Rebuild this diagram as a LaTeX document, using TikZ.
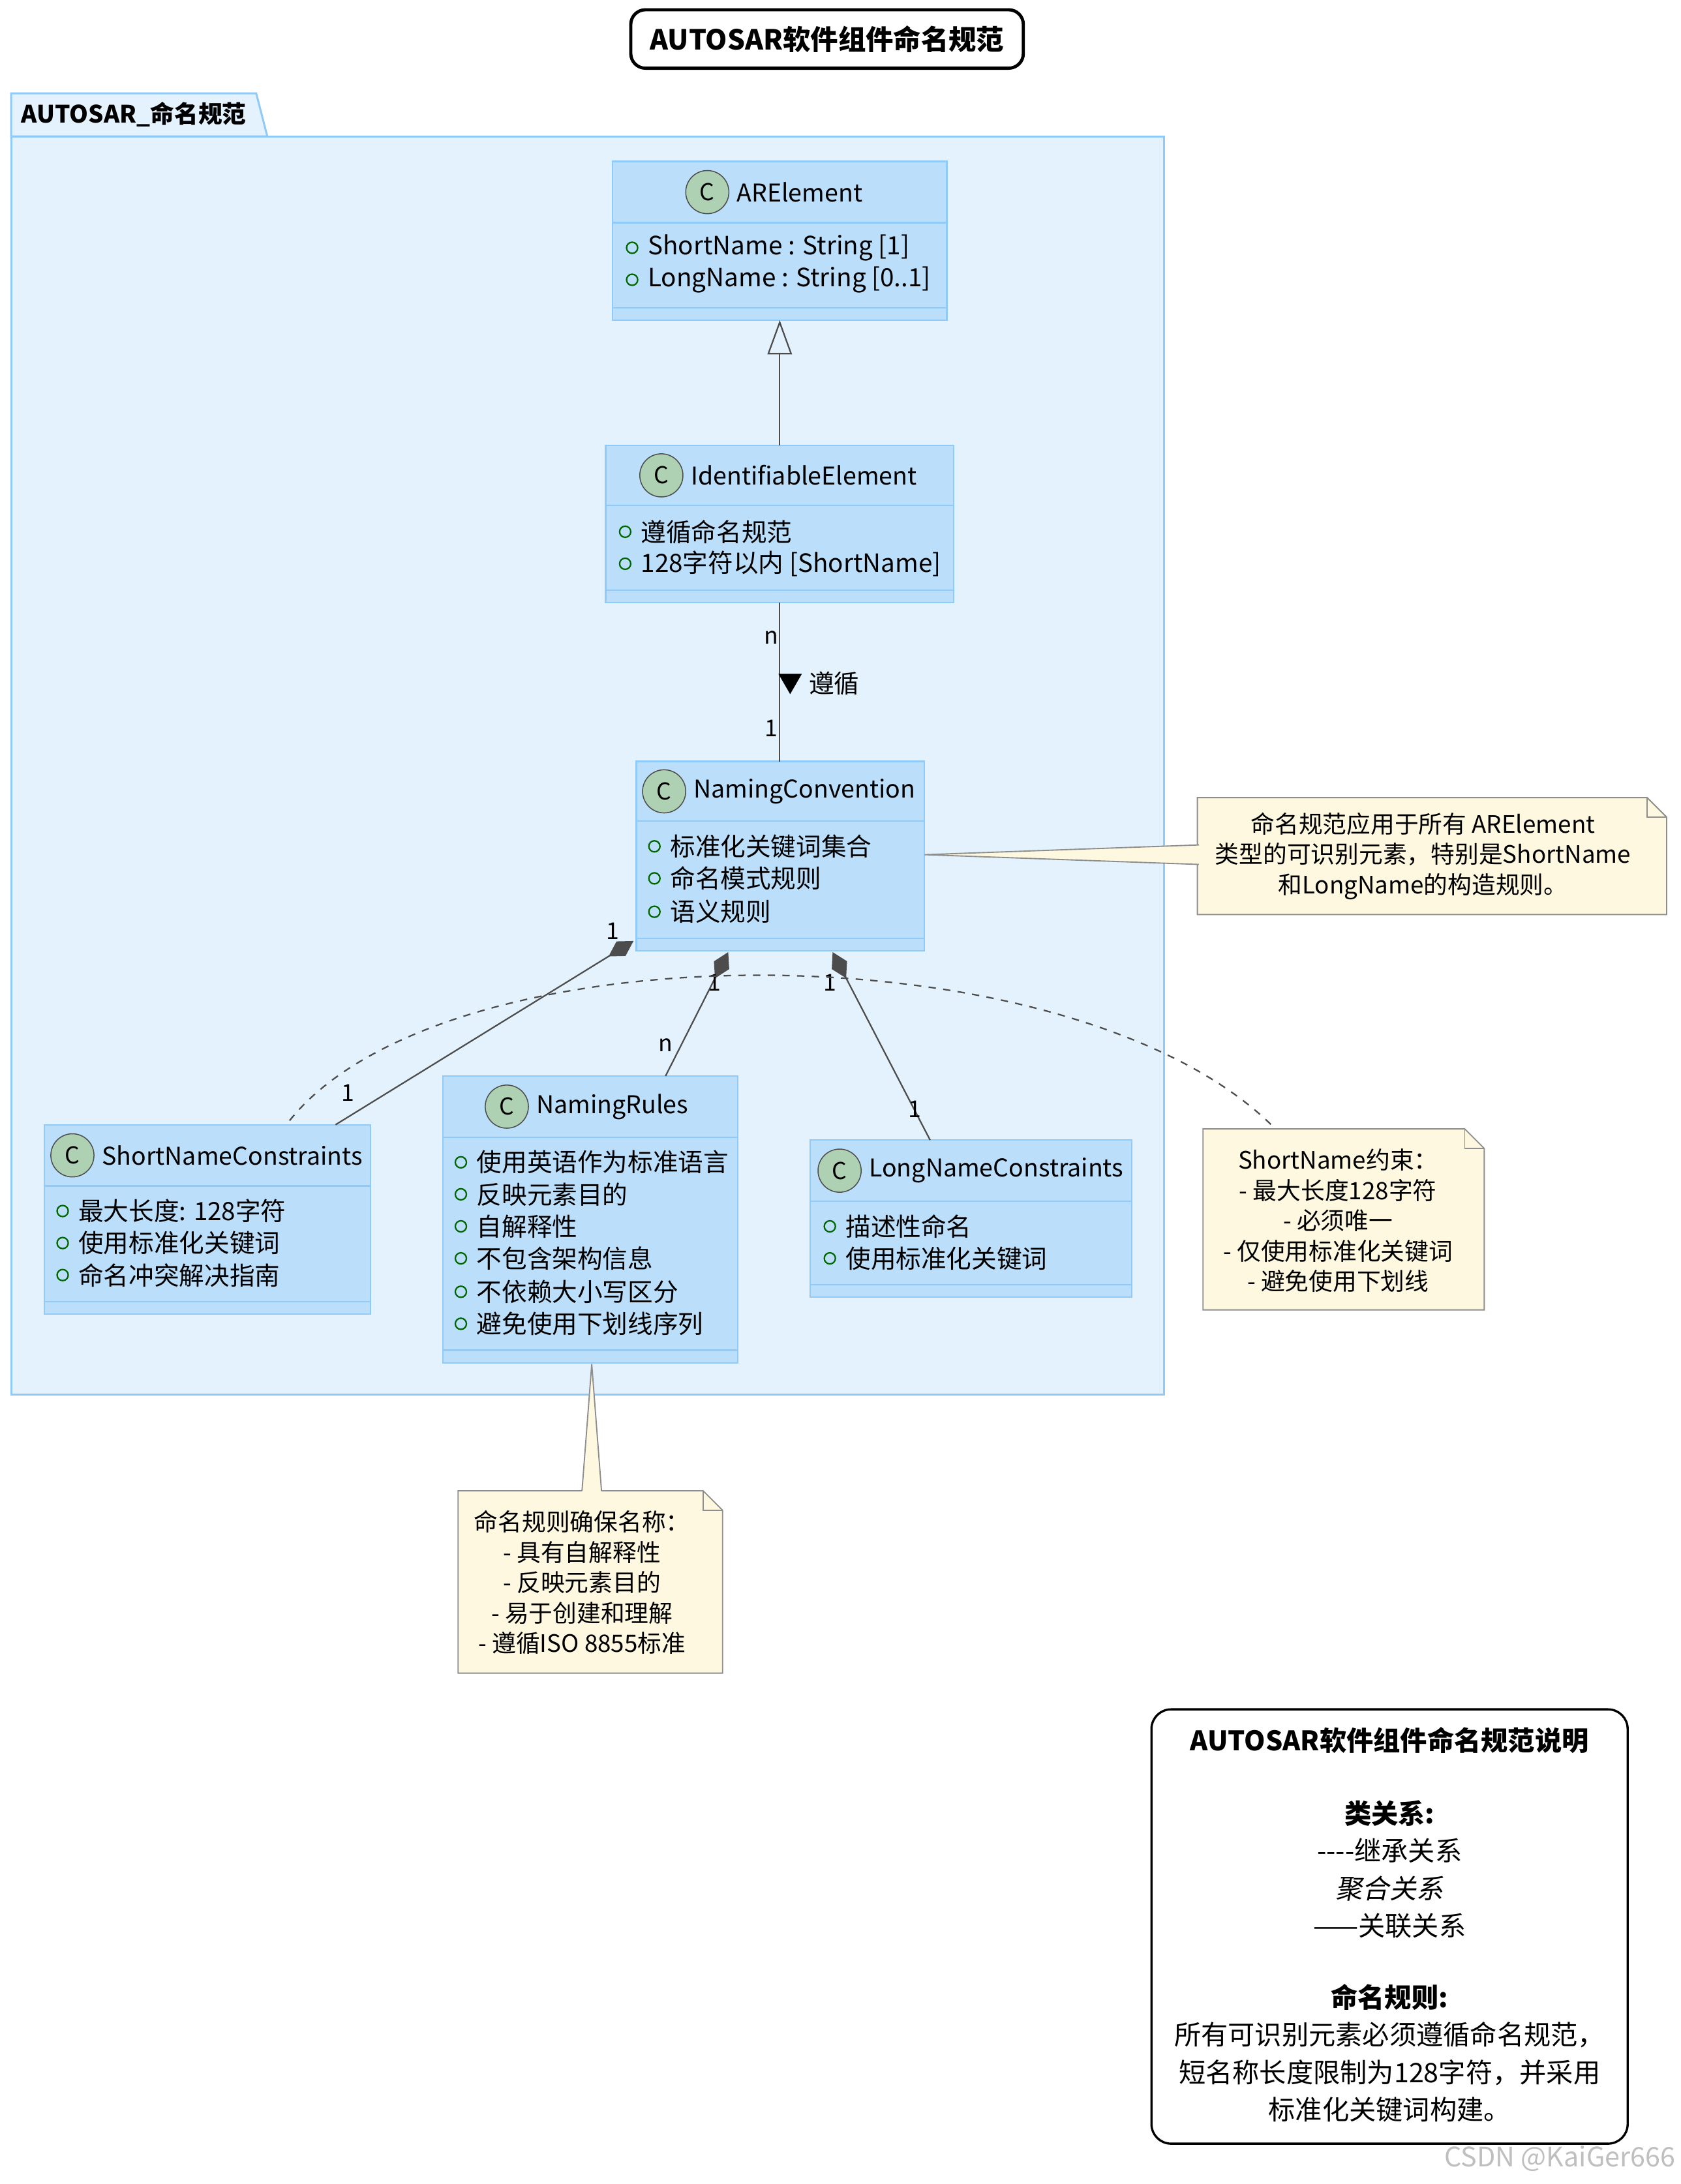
\documentclass[tikz,border=0pt]{standalone}
\usepackage{fontspec}
\setmainfont{Noto Sans CJK SC}
\newfontfamily\slcjk[FakeSlant=0.2]{Noto Sans CJK SC}
\usetikzlibrary{arrows.meta,calc}
\definecolor{pkgfill}{HTML}{E3F2FD}
\definecolor{pkgline}{HTML}{90CAF9}
\definecolor{clsfill}{HTML}{BBDEFB}
\definecolor{cfill}{HTML}{ADD1B2}
\definecolor{notefill}{HTML}{FEF8E0}
\definecolor{noteline}{HTML}{8E8E8E}
\tikzset{
 px/.style={x={(0.02cm,0)},y={(0,-0.02cm)}},
 txt/.style={font=\fontsize{10.3}{11}\selectfont,inner sep=0pt,anchor=west},
 ctitle/.style={font=\fontsize{10}{11}\selectfont,inner sep=0pt},
 lbl/.style={font=\fontsize{9.5}{10}\selectfont,inner sep=0pt},
 notetxt/.style={font=\fontsize{9.8}{12.4}\selectfont,align=center,inner sep=0pt},
 cbox/.style={fill=clsfill,draw=pkgline,line width=0.6pt},
}
\newcommand{\cls}[8]{% name x1 y1 x2 y2 hy title circlex
 \draw[cbox] (#2,#3) rectangle (#4,#5);
 \draw[pkgline,line width=0.6pt] (#2,#6) -- (#4,#6) (#2,#5-9) -- (#4,#5-9);
 \node[circle,draw=black!70,fill=cfill,minimum size=0.62cm,inner sep=0pt,font=\fontsize{9.5}{10}\selectfont] (#1c) at (#8,{(#3+#6)/2}) {C};
 \node[ctitle,anchor=west] (#1) at ($(#1c.east)+(5,0)$) {#7};}
\newcommand{\attr}[4]{% name x y text
 \draw[black!60!green,line width=0.6pt] (#2+8,#3) circle (4);
 \node[txt] (#1) at (#2+19,#3) {#4};}
\begin{document}
\begin{tikzpicture}[px]
\useasboundingbox (0,0) rectangle (1207,1569);
\fill[white] (0,0) rectangle (1207,1569);
% title
\node[draw,line width=1.3pt,rounded corners=6pt,minimum width=5.64cm,minimum height=0.84cm,font=\bfseries\fontsize{11.3}{12}\selectfont] (title) at (594,28) {AUTOSAR软件组件命名规范};
% package
\draw[fill=pkgfill,draw=pkgline,line width=0.8pt] (8,98) -- (8,67) -- (184,67) -- (192,98) -- cycle;
\draw[fill=pkgfill,draw=pkgline,line width=0.8pt] (8,98) rectangle (836,1002);
\node[font=\bfseries\fontsize{9.8}{10}\selectfont,anchor=west,inner sep=0pt] (pkg) at (15,82) {AUTOSAR\_命名规范};
% classes
\cls{are}{440}{116}{680}{230}{160}{ARElement}{508}
\attr{a1}{446}{178}{ShortName : String [1]}
\attr{a2}{446}{201}{LongName : String [0..1]}
\cls{ide}{435}{320}{685}{433}{363}{IdentifiableElement}{475}
\attr{i1}{441}{382}{遵循命名规范}
\attr{i2}{441}{405}{128字符以内 [ShortName]}
\cls{nc}{457}{547}{664}{683}{590}{NamingConvention}{477}
\attr{n1}{462}{608}{标准化关键词集合}
\attr{n2}{462}{631}{命名模式规则}
\attr{n3}{462}{655}{语义规则}
\cls{snc}{32}{808}{266}{944}{852}{ShortNameConstraints}{52}
\attr{s1}{37}{870}{最大长度: 128字符}
\attr{s2}{37}{893}{使用标准化关键词}
\attr{s3}{37}{916}{命名冲突解决指南}
\cls{nr}{318}{773}{530}{979}{817}{NamingRules}{364}
\attr{r1}{323}{835}{使用英语作为标准语言}
\attr{r2}{323}{858}{反映元素目的}
\attr{r3}{323}{881}{自解释性}
\attr{r4}{323}{904}{不包含架构信息}
\attr{r5}{323}{928}{不依赖大小写区分}
\attr{r6}{323}{951}{避免使用下划线序列}
\cls{lnc}{582}{819}{813}{932}{863}{LongNameConstraints}{603}
\attr{l1}{588}{881}{描述性命名}
\attr{l2}{588}{904}{使用标准化关键词}
% edges
\coordinate (ib) at (560,230); \coordinate (it) at (560,320);
\draw[-{Triangle[open,length=14pt,width=10pt]},black!70,line width=0.6pt] (it) -- (ib);
\draw[black!70,line width=0.6pt] (560,433) -- (560,547);
\node[lbl] (ln) at (554,458) {n}; \node[lbl] (l1a) at (554,523) {1};
\node[lbl,font=\fontsize{10.3}{11}\selectfont] (fol) at (588,491) {▼ 遵循};
\draw[{Diamond[length=12pt,width=7pt]}-,black!70,line width=0.6pt] (455,676) -- (241,808);
\node[lbl] (d1a) at (440,669) {1}; \node[lbl] (d1b) at (250,785) {1};
\draw[{Diamond[length=12pt,width=7pt]}-,black!70,line width=0.6pt] (523,684) -- (478,773);
\node[lbl] (d2a) at (513,706) {1}; \node[lbl] (d2b) at (478,751) {n};
\draw[{Diamond[length=12pt,width=7pt]}-,black!70,line width=0.6pt] (598,684) -- (668,819);
\node[lbl] (d3a) at (596,706) {1}; \node[lbl] (d3b) at (657,797) {1};
\draw[dashed,black!70,line width=0.6pt] (208,805) .. controls (320,665) and (770,665) .. (915,810);
% notes
\newcommand{\note}[4]{\draw[fill=notefill,draw=noteline,line width=0.5pt] (#1,#2) -- (#3-14,#2) -- (#3,#2+14) -- (#3,#4) -- (#1,#4) -- cycle;
 \draw[draw=noteline,line width=0.5pt] (#3-14,#2) -- (#3-14,#2+14) -- (#3,#2+14);}
\note{860}{573}{1197}{657}
\fill[notefill] (664,614) -- (861,607) -- (861,621) -- cycle;
\draw[noteline,line width=0.5pt] (861,607) -- (664,614) -- (861,621);
\node[notetxt] (nt1) at (1022,615) {命名规范应用于所有 ARElement\\类型的可识别元素，特别是ShortName\\和LongName的构造规则。};
\note{864}{811}{1066}{941}
\node[notetxt] (nt2) at (961,877) {ShortName约束：\\- 最大长度128字符\\- 必须唯一\\- 仅使用标准化关键词\\- 避免使用下划线};
\note{329}{1071}{519}{1202}
\fill[notefill] (425,980) -- (418,1072) -- (432,1072) -- cycle;
\draw[noteline,line width=0.5pt] (418,1071) -- (425,980) -- (432,1071);
\node[notetxt] (nt3) at (418,1137) {命名规则确保名称：\\- 具有自解释性\\- 反映元素目的\\- 易于创建和理解\\- 遵循ISO 8855标准};
% legend
\draw[rounded corners=8pt,line width=0.9pt] (827,1228) rectangle (1169,1540);
\node[font=\bfseries\fontsize{11}{12}\selectfont,inner sep=0pt] (lgt) at (998,1250) {AUTOSAR软件组件命名规范说明};
\node[font=\fontsize{11}{15.3}\selectfont,align=center,inner sep=0pt,anchor=north] (lgb) at (998,1293)
 {\textbf{类关系:}\\{-}{-}{-}{-}继承关系\\{\slcjk 聚合关系}\\——关联关系\\[14pt]\textbf{命名规则:}\\所有可识别元素必须遵循命名规范，\\短名称长度限制为128字符，并采用\\标准化关键词构建。};
\node[font=\fontsize{11}{12}\selectfont,text=black!25,anchor=south east,inner sep=2pt] (wm) at (1207,1564) {CSDN @KaiGer666};
\end{tikzpicture}
\end{document}
